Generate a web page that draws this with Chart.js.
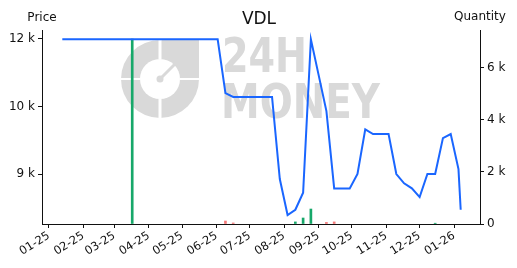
<!DOCTYPE html>
<html>
<head>
<meta charset="utf-8">
<script src="https://cdn.jsdelivr.net/npm/chart.js@4/dist/chart.umd.min.js"></script>
<style>
    html, body { margin: 0; padding: 0; background: #fff; }
    #chart_wrap { width: 517px; height: 268px; }
</style>
</head>
<body>
<div id="chart_wrap"><canvas id="vdl_chart" width="517" height="268"></canvas></div>
<script>
// x values are days counted from 2025-01-01
const monthTicks = [0, 31, 59, 90, 120, 151, 181, 212, 243, 273, 304, 334, 365];
const monthLabels = ["01-25", "02-25", "03-25", "04-25", "05-25", "06-25", "07-25",
    "08-25", "09-25", "10-25", "11-25", "12-25", "01-26"];

// weekly closes, 2025-01-13 .. 2026-01-05, then 2026-01-07
const priceDays = [12, 19, 26, 33, 40, 47, 54, 61, 68, 75, 82, 89, 96, 103, 110, 117, 124, 131, 138, 145,
    152, 159, 166, 173, 180, 187, 194, 201, 208, 215, 222, 229, 236, 243, 250, 257, 264, 271, 278, 285,
    292, 299, 306, 313, 320, 327, 334, 341, 348, 355, 362, 369, 371];
const prices = [11550, 11550, 11550, 11550, 11550, 11550, 11550, 11550, 11550, 11550, 11550, 11550, 11550,
    11550, 11550, 11550, 11550, 11550, 11550, 11550, 11550, 10660, 10600, 10600, 10600, 10600, 10600,
    10600, 9380, 8890, 8960, 9190, 11550, 10950, 10380, 9250, 9250, 9250, 9450, 10100, 10030, 10030,
    10030, 9450, 9320, 9250, 9130, 9450, 9450, 9970, 10030, 9520, 8960];

const qtyDays = [75, 159, 166, 222, 229, 236, 250, 257, 348];
const quantities = [7100, 115, 40, 80, 230, 575, 60, 80, 30];
const qtySides = ["buy", "sell", "sell", "buy", "buy", "buy", "sell", "sell", "buy"];

const priceTicks = [9450, 10450, 11556];
const qtyTicks = [0, 2000, 4000, 6000];

const BLUE = "#1a66ff";
const GREEN = "#17a86a";
const RED = "#f57878";
const MARK = "#d9d9d9";
const FONT = "'DejaVu Sans', sans-serif";

function kLabel(v) {
    const k = Math.round(v / 1000);
    return v === 0 ? "0" : `${k} k`;
}

const textPlugin = {
    id: "sideTexts",
    afterDraw(chart) {
        const ctx = chart.ctx;
        const area = chart.chartArea;
        ctx.save();
        ctx.fillStyle = "#111";
        ctx.textAlign = "center";
        ctx.textBaseline = "alphabetic";
        ctx.font = `17px ${FONT}`;
        ctx.fillText("VDL", 259, 24);
        ctx.font = `12px ${FONT}`;
        ctx.fillText("Price", area.left, 21);
        ctx.fillText("Quantity", area.right, 20);
        ctx.restore();
    },
};

const watermarkPlugin = {
    id: "watermark",
    beforeDatasetsDraw(chart) {
        const ctx = chart.ctx;
        const cx = 160, cy = 79;
        ctx.save();
        ctx.fillStyle = MARK;
        ctx.strokeStyle = MARK;

        // round logo: ring with a square top-right corner
        ctx.beginPath();
        ctx.arc(cx, cy, 39, 0, 2 * Math.PI);
        ctx.fill();
        ctx.fillRect(cx + 2, cy - 39, 37, 38);
        ctx.fillStyle = "#fff";
        ctx.beginPath();
        ctx.arc(cx, cy, 20, 0, 2 * Math.PI);
        ctx.fill();
        ctx.fillRect(cx - 41, cy - 1, 21, 2);
        ctx.fillRect(cx + 20, cy - 1, 21, 2);
        ctx.fillRect(cx - 1.5, cy - 41, 3, 21);
        ctx.fillRect(cx - 1.5, cy + 20, 3, 21);
        ctx.fillStyle = MARK;
        ctx.lineWidth = 3;
        ctx.beginPath();
        ctx.moveTo(cx, cy);
        ctx.lineTo(cx + 20, cy - 20);
        ctx.stroke();
        ctx.beginPath();
        ctx.arc(cx, cy, 3.5, 0, 2 * Math.PI);
        ctx.fill();

        // brand text
        ctx.font = `bold 48px ${FONT}`;
        ctx.textAlign = "left";
        ctx.textBaseline = "alphabetic";
        const drawFit = (txt, x, y, w) => {
            const m = ctx.measureText(txt).width;
            ctx.save();
            ctx.translate(x, y);
            ctx.scale(w / m, 1);
            ctx.fillText(txt, 0, 0);
            ctx.restore();
        };
        drawFit("24H", 222, 72, 85);
        drawFit("MONEY", 221, 118, 159);
        ctx.restore();
    },
};

const axisTicks = { color: "#111", font: { family: FONT, size: 12 } };
const axisGrid = { drawOnChartArea: false, drawTicks: true, tickLength: 4, tickColor: "#111" };
const axisBorder = { display: true, color: "#111", width: 1 };

new Chart(document.getElementById("vdl_chart"), {
    data: {
        datasets: [
            {
                type: "line",
                label: "Price",
                yAxisID: "yPrice",
                data: priceDays.map((d, i) => ({ x: d, y: prices[i] })),
                borderColor: BLUE,
                borderWidth: 2,
                pointRadius: 0,
                tension: 0,
                order: 0,
            },
            {
                type: "bar",
                label: "Quantity",
                yAxisID: "yQty",
                data: qtyDays.map((d, i) => ({ x: d, y: quantities[i] })),
                backgroundColor: qtySides.map((s) => (s === "buy" ? GREEN : RED)),
                barThickness: 2,
                order: 1,
            },
        ],
    },
    options: {
        responsive: false,
        animation: false,
        devicePixelRatio: 1,
        layout: { padding: { top: 30, left: 0, right: 0, bottom: 0 } },
        plugins: { legend: { display: false }, tooltip: { enabled: false }, title: { display: false } },
        scales: {
            x: {
                type: "linear",
                offset: false,
                min: -6.3,
                max: 388.4,
                grid: { ...axisGrid, offset: false },
                border: axisBorder,
                ticks: {
                    ...axisTicks,
                    font: { family: FONT, size: 11.5 },
                    autoSkip: false,
                    minRotation: 32,
                    maxRotation: 32,
                    padding: 1,
                    callback: (v) => monthLabels[monthTicks.indexOf(v)],
                },
                afterBuildTicks: (scale) => { scale.ticks = monthTicks.map((v) => ({ value: v })); },
                afterFit: (scale) => { scale.height = 44; },
            },
            yPrice: {
                type: "logarithmic",
                position: "left",
                min: 8772,
                max: 11712,
                grid: axisGrid,
                border: axisBorder,
                ticks: { ...axisTicks, autoSkip: false, padding: 3, callback: (v) => kLabel(v) },
                afterBuildTicks: (scale) => { scale.ticks = priceTicks.map((v) => ({ value: v })); },
                afterFit: (scale) => { scale.width = 42; },
            },
            yQty: {
                type: "linear",
                position: "right",
                min: 0,
                max: 7447,
                grid: axisGrid,
                border: axisBorder,
                ticks: { ...axisTicks, autoSkip: false, padding: 3, callback: (v) => kLabel(v) },
                afterBuildTicks: (scale) => { scale.ticks = qtyTicks.map((v) => ({ value: v })); },
                afterFit: (scale) => { scale.width = 37; },
            },
        },
    },
    plugins: [watermarkPlugin, textPlugin],
});
</script>
</body>
</html>
